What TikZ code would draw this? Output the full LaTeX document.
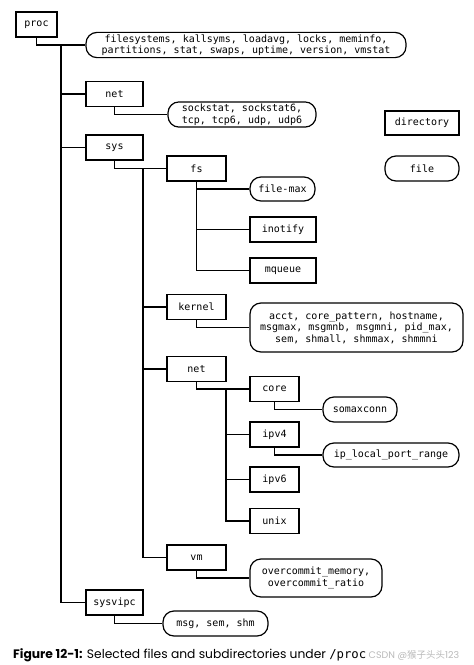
\documentclass[tikz,border=0pt]{standalone}
\usepackage{fontspec}
\setmainfont{Poppins}
\setmonofont{DejaVu Sans Mono}
\newfontfamily\cjk{Noto Sans CJK SC}

\tikzset{
	dirbox/.style={draw, line width=1.2pt, minimum height=25pt, inner sep=2pt,
		font=\fontsize{10}{11.5}\selectfont\ttfamily},
	filebox/.style={dirbox, rounded corners=11pt, align=center},
	link/.style={line width=1.2pt},
}

\begin{document}
\begin{tikzpicture}[x=1pt, y=-1pt]
	% Parameters
	\def\dirw{57}
	\def\subw{59}
	\def\leafw{49}

	% Page
	\useasboundingbox (0,0) rectangle (474,665);

	% Top level
	\node[dirbox, minimum width=41pt] (proc) at (36.5,24.5) {proc};
	\node[filebox, minimum width=320pt] (procfiles) at (246,45)
		{filesystems, kallsyms, loadavg, locks, meminfo,\\partitions, stat, swaps, uptime, version, vmstat};
	\node[dirbox, minimum width=\dirw pt] (pnet) at (114.5,94) {net};
	\node[filebox, minimum width=148pt] (pnetfiles) at (242,114.5)
		{sockstat, sockstat6,\\tcp, tcp6, udp, udp6};
	\node[dirbox, minimum width=\dirw pt] (sys) at (114.5,147.5) {sys};
	\node[dirbox, minimum width=\dirw pt] (sysvipc) at (114.5,602.5) {sysvipc};
	\node[filebox, minimum width=105pt] (ipcfiles) at (215.5,623.5) {msg, sem, shm};

	% Legend
	\node[dirbox, minimum width=74pt, minimum height=24pt] (legdir) at (422,123) {directory};
	\node[filebox, minimum width=74pt] (legfile) at (422,168.5) {file};

	% sys/fs
	\node[dirbox, minimum width=\subw pt] (fs) at (196.5,168.5) {fs};
	\node[filebox, minimum width=65pt, minimum height=24pt] (filemax) at (282.5,189) {file-max};
	\node[dirbox, minimum width=66pt] (inotify) at (283,229.5) {inotify};
	\node[dirbox, minimum width=66pt] (mqueue) at (283,270.5) {mqueue};

	% sys/kernel
	\node[dirbox, minimum width=\subw pt] (kernel) at (196.5,307) {kernel};
	\node[filebox, minimum width=213pt, minimum height=49pt] (kernfiles) at (356.5,327.5)
		{acct, core\_pattern, hostname,\\msgmax, msgmnb, msgmni, pid\_max,\\sem, shmall, shmmax, shmmni};

	% sys/net
	\node[dirbox, minimum width=\subw pt] (snet) at (196.5,369) {net};
	\node[dirbox, minimum width=\leafw pt] (core) at (274.5,389) {core};
	\node[filebox, minimum width=74pt] (somax) at (360,409.5) {somaxconn};
	\node[dirbox, minimum width=\leafw pt] (ipv4) at (274.5,434.5) {ipv4};
	\node[filebox, minimum width=136pt, minimum height=24pt] (portrange) at (391,455) {ip\_local\_port\_range};
	\node[dirbox, minimum width=\leafw pt] (ipv6) at (274.5,479.5) {ipv6};
	\node[dirbox, minimum width=\leafw pt] (unix) at (274.5,521) {unix};

	% sys/vm
	\node[dirbox, minimum width=\subw pt] (vm) at (196.5,557.5) {vm};
	\node[filebox, minimum width=132pt, minimum height=38pt] (vmfiles) at (316,578)
		{overcommit\_memory,\\overcommit\_ratio};

	% Branch points
	\coordinate (proctrunk) at (61,45);
	\coordinate (systrunk) at (143,168.5);
	\coordinate (nettrunk) at (226,389);

	% Connectors
	\draw[link] (proc.south) |- (procfiles.west);
	\foreach \c in {pnet, sys, sysvipc}
		\draw[link] (proctrunk) |- (\c.west);
	\draw[link] (pnet.south) |- (pnetfiles.west);
	\draw[link] (sys.south) |- (fs.west);
	\foreach \c in {kernel, snet, vm}
		\draw[link] (systrunk) |- (\c.west);
	\foreach \c in {filemax, inotify, mqueue}
		\draw[link] (fs.south) |- (\c.west);
	\draw[link] (kernel.south) |- (kernfiles.west);
	\draw[link] (snet.south) |- (core.west);
	\foreach \c in {ipv4, ipv6, unix}
		\draw[link] (nettrunk) |- (\c.west);
	\draw[link] (core.south) |- (somax.west);
	\draw[link] (ipv4.south) |- (portrange.west);
	\draw[link] (vm.south) |- (vmfiles.west);
	\draw[link] (sysvipc.south) |- (ipcfiles.west);

	% Caption
	\node[anchor=base west, inner sep=0pt, font=\fontsize{12.3}{14}\selectfont] (caption) at (13,658)
		{\textbf{Figure 12-1:} Selected files and subdirectories under \texttt{/proc}};
	\node[anchor=base west, inner sep=0pt, text=gray!55, font=\fontsize{9.5}{11}\selectfont] (mark)
		at ([xshift=2pt]caption.base east) {CSDN @{\cjk 猴子头头}123};
\end{tikzpicture}
\end{document}
